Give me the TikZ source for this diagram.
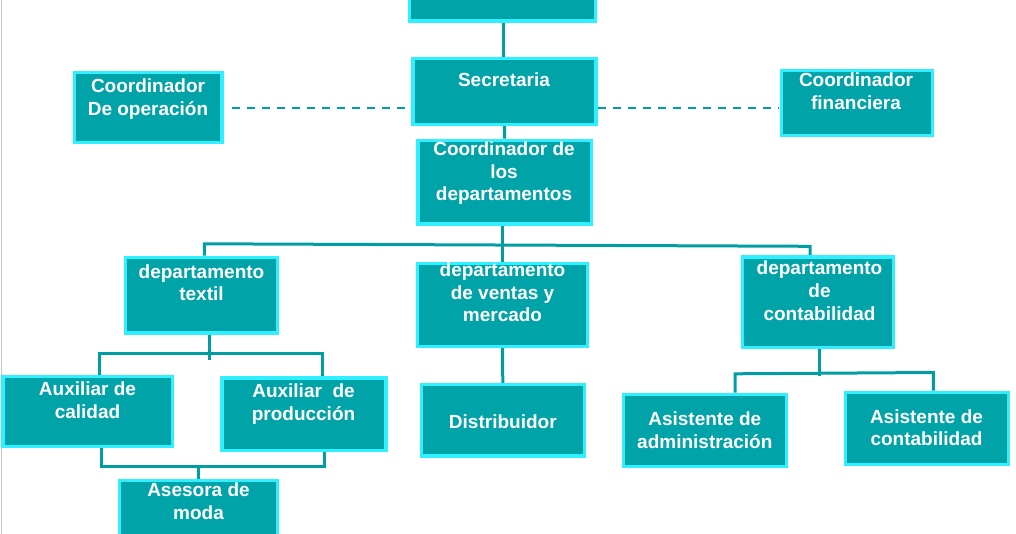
\documentclass[tikz,border=0pt]{standalone}
\usepackage{fontspec}
\setmainfont{Liberation Sans}
\usetikzlibrary{backgrounds}
\definecolor{boxfill}{RGB}{0,163,168}
\definecolor{boxedge}{RGB}{48,240,255}
\definecolor{linkcol}{RGB}{0,158,163}
\definecolor{edgegray}{RGB}{200,200,200}
\tikzset{
  orgbox/.style={draw=boxedge, fill=boxfill, line width=3.2pt, inner sep=0pt, rectangle},
  boxtext/.style={text=white, inner sep=0pt, anchor=north, align=center,
    font=\fontsize{19}{22.6}\selectfont\bfseries},
  link/.style={draw=linkcol, line width=3pt},
  dashlink/.style={draw=linkcol, line width=2.5pt, dash pattern=on 8pt off 7pt}
}
\begin{document}
\begin{tikzpicture}[x=1pt,y=-1pt]
\useasboundingbox (0,0) rectangle (1016,534);
\clip (0,0) rectangle (1016,534);
\draw[edgegray, line width=1pt] (1.5,0) -- (1.5,534);

% boxes
\node[orgbox, minimum width=186pt, minimum height=41pt] (top) at (502.5,0.5) {};
\node[orgbox, minimum width=183pt, minimum height=66pt] (sec) at (504.5,91.5) {};
\node[orgbox, minimum width=147.5pt, minimum height=70pt] (op) at (148.25,107.5) {};
\node[orgbox, minimum width=151.2pt, minimum height=65.2pt] (fin) at (856.9,102.9) {};
\node[orgbox, minimum width=173.5pt, minimum height=83.7pt] (coord) at (504.75,182.15) {};
\node[orgbox, minimum width=152.4pt, minimum height=75.7pt] (dtex) at (201.5,295.15) {};
\node[orgbox, minimum width=170.4pt, minimum height=82.8pt] (dven) at (502.5,305) {};
\node[orgbox, minimum width=151.4pt, minimum height=90.7pt] (dcon) at (818,302.35) {};
\node[orgbox, minimum width=163pt, minimum height=71.4pt] (dist) at (502.8,420.3) {};
\node[orgbox, minimum width=163pt, minimum height=72.4pt] (aadm) at (704.8,430.5) {};
\node[orgbox, minimum width=163.4pt, minimum height=72pt] (acon) at (927,428.3) {};
\node[orgbox, minimum width=169.7pt, minimum height=70pt] (acal) at (87.85,411.3) {};
\node[orgbox, minimum width=164pt, minimum height=72.3pt] (apro) at (304,414.15) {};
\node[orgbox, minimum width=158.1pt, minimum height=69.7pt] (ases) at (198.65,515.15) {};

% texts
\node[boxtext] (tsec) at (504,73) {Secretaria};
\node[boxtext] (top_t) at (148,78.5) {Coordinador\\De operación};
\node[boxtext] (tfin) at (856,73) {Coordinador\\financiera};
\node[boxtext] (tcoord) at (504,141.5) {Coordinador de\\los\\departamentos};
\node[boxtext] (tdtex) at (201.5,264.3) {departamento\\textil};
\node[boxtext] (tdven) at (502.5,262.7) {departamento\\de ventas y\\mercado};
\node[boxtext] (tdcon) at (819.5,261) {departamento\\de\\contabilidad};
\node[boxtext] (tacal) at (87.5,381.7) {Auxiliar de\\calidad};
\node[boxtext] (tapro) at (303.5,383.7) {Auxiliar\ \ de\\producción};
\node[boxtext] (tases) at (198.5,482.7) {Asesora de\\moda};
\node[boxtext] (tdist) at (502.8,414.3) {Distribuidor};
\node[boxtext] (taadm) at (704.8,411.7) {Asistente de\\administración};
\node[boxtext] (tacon) at (926.5,409.3) {Asistente de\\contabilidad};

% connectors
\begin{scope}[on background layer]
\coordinate (dL) at (231.7,108);
\coordinate (dR) at (778.3,108);
\draw[dashlink] (dL) -- (dL -| sec.west);
\draw[dashlink] (dR -| sec.east) -- (dR);

\draw[link] ([xshift=0.8pt]top.south) -- ([xshift=-1.2pt]sec.north);
\draw[link] (sec.south) -- (coord.north);
\draw[link] ([xshift=-2.5pt]coord.south) -- ++(0,20.5);

\coordinate (barL) at (204.3,243.8);
\coordinate (barR) at (810,246.3);
\draw[link] (dtex.north -| barL) -- (barL) -- (barR) -- (barR |- dcon.north);
\draw[link] (dven.north) -- ++(0,-19.5);
\draw[link] (dven.south) -- (dist.north);

\draw[link] ([xshift=7.5pt]dtex.south) -- ++(0,25);
\coordinate (b2L) at (99,353.3);
\coordinate (b2R) at (322.7,353.3);
\draw[link] (acal.north -| b2L) -- (b2L) -- (b2R) -- (b2R |- apro.north);

\coordinate (b3L) at (101,466.5);
\coordinate (b3R) at (324,466.5);
\draw[link] (acal.south -| b3L) -- (b3L) -- (b3R) -- (b3R |- apro.south);
\draw[link] (ases.north |- b3L) -- (ases.north);

\draw[link] ([xshift=1pt]dcon.south) -- ++(0,26.5);
\coordinate (b4L) at (735,373.8);
\coordinate (b4R) at (933.3,372.5);
\draw[link] (aadm.north -| b4L) -- (b4L) -- (b4R) -- (b4R |- acon.north);
\end{scope}
\end{tikzpicture}
\end{document}
